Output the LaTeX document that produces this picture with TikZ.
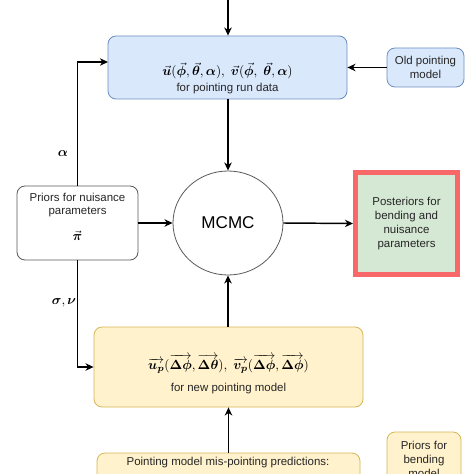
\documentclass[tikz,border=0pt]{standalone}
\usepackage{amsmath}
\usepackage{bm}
\usepackage{fontspec}
\setmainfont{Liberation Sans}
\usetikzlibrary{arrows.meta,shapes.geometric}
\definecolor{bluefill}{HTML}{DAE8FC}
\definecolor{bluedraw}{HTML}{6C8EBF}
\definecolor{yelfill}{HTML}{FFF2CC}
\definecolor{yeldraw}{HTML}{D6B656}
\definecolor{grnfill}{HTML}{D5E8D4}
\definecolor{reddraw}{HTML}{F86868}
\def\pxu{0.75pt}
\begin{document}
\begin{tikzpicture}[x=0.75pt,y=-0.75pt,
  every node/.style={inner sep=0pt, font=\fontsize{8.6}{10.3}\selectfont},
  rbox/.style={draw, rounded corners=6pt, line width=0.6pt},
  bluebox/.style={rbox, fill=bluefill, draw=bluedraw},
  yelbox/.style={rbox, fill=yelfill, draw=yeldraw},
  greybox/.style={rbox, fill=white, draw=black!65},
  txt/.style={align=center, text=black!85},
  mathtxt/.style={font=\fontsize{10.3}{12}\selectfont},
  arr/.style={-{Stealth[length=6pt,width=5.5pt,inset=1.8pt]}, line width=1.1pt, black}
]
\useasboundingbox (0,0) rectangle (474,474);
\clip (0,0) rectangle (474,474);

% boxes
\node[bluebox, minimum width=239*\pxu, minimum height=63*\pxu] (blue) at (227.5,67.5) {};
\node[mathtxt] (bluemath) at (227.5,71) {$\vec{\bm u}(\vec{\bm\phi},\vec{\bm\theta},\bm\alpha),\ \vec{\bm v}(\vec{\bm\phi},\ \vec{\bm\theta},\bm\alpha)$};
\node[txt] (bluetxt) at (227.5,88.5) {for pointing run data};

\node[bluebox, minimum width=77*\pxu, minimum height=39*\pxu, txt] (old) at (425.5,67.5) {Old pointing\\model};

\node[greybox, minimum width=121*\pxu, minimum height=74*\pxu] (priorsN) at (77.5,223) {};
\node[txt] (priorsNtxt) at (77.5,205) {Priors for nuisance\\parameters};
\node[mathtxt] (pivec) at (77.5,236) {$\vec{\bm\pi}$};

\node[ellipse, draw=black!65, line width=0.6pt, fill=white, minimum width=110*\pxu, minimum height=104*\pxu,
      font=\fontsize{12.8}{14}\selectfont] (mcmc) at (228,223) {MCMC};

\node[draw=reddraw, line width=3.75pt, fill=grnfill, minimum width=102*\pxu, minimum height=102*\pxu, txt] (post) at (406.5,223.5)
  {Posteriors for\\bending and\\nuisance\\parameters};

\node[yelbox, minimum width=269*\pxu, minimum height=80*\pxu] (yel) at (228.5,367) {};
\node[mathtxt] (yelmath) at (228.5,364) {$\overrightarrow{\bm u_{\bm p}}(\overrightarrow{\bm{\Delta\phi}},\overrightarrow{\bm{\Delta\theta}}),\ \overrightarrow{\bm v_{\bm p}}(\overrightarrow{\bm{\Delta\phi}},\overrightarrow{\bm{\Delta\phi}})$};
\node[txt] (yeltxt) at (228.5,389) {for new pointing model};

\node[yelbox, minimum width=263*\pxu, minimum height=60*\pxu] (bottom) at (228.5,483) {};
\node[txt] (bottomtxt) at (228,463) {Pointing model mis-pointing predictions:};

\node[yelbox, minimum width=74*\pxu, minimum height=80*\pxu] (bend) at (424,472) {};
\node[txt, anchor=north] (bendtxt) at (424,441) {Priors for\\bending\\model};

% connectors
\coordinate (topin) at (228,0);
\coordinate (bluein) at (108,62);
\draw[arr] (topin) -- (topin |- blue.north);
\draw[arr] (old.west) -- (blue.east |- old.west);
\draw[arr] (priorsN.north) |- (bluein);
\draw[arr] (priorsN.east) -- (mcmc.west);
\draw[arr] (mcmc.north |- blue.south) -- (mcmc.north);
\draw[arr] (mcmc.east) -- (post.west);
\draw[arr] (mcmc.south |- yel.north) -- (mcmc.south);
\draw[arr] (priorsN.south) |- (yel.west);
\draw[arr] (bottom.north) -- (bottom.north |- yel.south);

% labels
\node[mathtxt] (alab) at (63,154) {$\bm\alpha$};
\node[mathtxt] (snlab) at (64,303) {$\bm\sigma,\bm\nu$};
\end{tikzpicture}
\end{document}
